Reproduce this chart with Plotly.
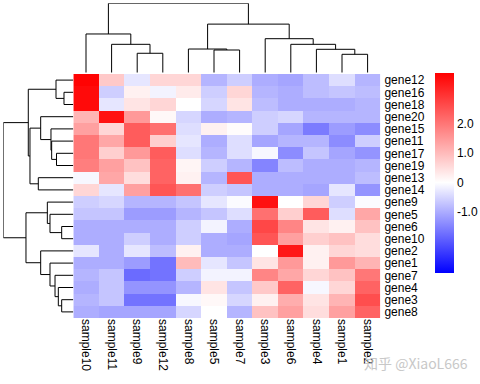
import plotly.graph_objects as go

samples = ["sample10", "sample11", "sample9", "sample12", "sample8", "sample5",
           "sample7", "sample3", "sample6", "sample4", "sample1", "sample2"]
genes = ["gene12", "gene16", "gene18", "gene20", "gene15", "gene11", "gene17",
         "gene19", "gene13", "gene14", "gene9", "gene5", "gene6", "gene10",
         "gene2", "gene1", "gene7", "gene4", "gene3", "gene8"]

values = [
    [3.7, 0.8, -0.3, 0.6, 0.6, -0.9, -0.6, -1.0, -1.1, -0.8, -0.4, -0.9],
    [3.6, -0.6, 0.2, -0.15, 0.3, -0.6, 0.6, -0.9, -1.0, -0.8, -0.7, -0.8],
    [3.6, -0.3, 0.4, 0.6, 0.0, -0.5, 0.4, -0.8, -1.0, -1.0, -1.0, -0.9],
    [1.1, 3.5, 1.5, 0.1, -0.5, -1.0, -0.9, -0.6, -0.5, -0.9, -0.9, -0.9],
    [1.4, 0.6, 2.4, 2.1, -0.4, 0.2, 0.05, -0.6, -1.1, -1.6, -1.2, -1.4],
    [2.0, 1.3, 2.4, 0.7, -0.3, -1.0, -0.4, -1.1, -0.9, -0.9, -1.4, -0.6],
    [2.0, 0.7, 1.5, 2.4, -0.4, -0.9, -0.4, -0.1, -1.4, -0.7, -1.1, -1.3],
    [1.9, 1.4, 0.9, 2.3, 0.15, -0.6, -0.9, -1.5, -0.8, -1.0, -1.0, -0.9],
    [-0.1, 1.3, 0.5, 2.3, 0.2, -0.9, 2.5, -1.0, -1.0, -1.0, -1.0, -0.8],
    [0.6, -0.3, 1.4, 2.5, 2.1, -0.6, -0.7, -1.0, -1.0, -1.1, -0.3, -1.3],
    [-0.6, -0.5, -0.9, -0.9, -0.7, -0.3, -0.05, 3.5, 0.0, 0.6, -0.6, -0.05],
    [-0.7, -0.7, -1.2, -1.2, -0.9, -0.7, -0.4, 2.1, 0.7, 2.4, -0.4, 1.3],
    [-1.0, -1.0, -1.0, -1.0, -0.6, -0.15, -1.0, 2.7, 1.8, 0.4, 0.2, 0.9],
    [-1.0, -1.0, -0.6, -1.0, -0.6, -1.0, -1.1, 2.5, 1.4, 0.7, 0.9, 0.5],
    [-0.3, -1.0, -0.3, -0.8, 0.2, -1.0, -1.0, 0.0, 3.4, 0.2, 0.6, 0.5],
    [-1.0, -1.0, -1.2, -1.7, 1.0, -0.3, -0.7, 0.4, 1.5, 0.2, 1.5, 1.1],
    [-0.9, -0.7, -1.8, -1.7, -0.6, -0.15, -0.15, 1.8, 1.3, 0.6, 0.9, 2.0],
    [-1.0, -0.7, -1.3, -1.3, -0.9, 0.4, -0.7, 0.8, 2.3, -0.1, 0.6, 2.3],
    [-0.9, -0.7, -1.7, -1.7, -0.1, 0.1, -0.5, 0.2, 1.2, 0.4, 1.1, 2.6],
    [-1.0, -1.1, -1.1, -1.1, -0.5, 0.0, -0.9, 0.9, 1.4, 0.5, 1.4, 2.3],
]

# dendrogram merges: (child a, child b, height); "cN"/"rN" refer to earlier merges
col_merges = [
    ("sample9", "sample12", 2.8),
    ("sample11", "c0", 4.09),
    ("sample10", "c1", 5.58),
    ("sample5", "sample7", 3.27),
    ("sample8", "c3", 3.41),
    ("sample1", "sample2", 2.65),
    ("sample4", "c5", 3.37),
    ("sample6", "c6", 4.09),
    ("sample3", "c7", 4.9),
    ("c4", "c8", 7.0),
    ("c2", "c9", 10.0),
]
row_merges = [
    ("gene16", "gene18", 1.33),
    ("gene12", "r0", 2.47),
    ("gene17", "gene19", 2.4),
    ("gene11", "r2", 3.09),
    ("gene15", "r3", 3.19),
    ("gene20", "r4", 4.66),
    ("gene13", "gene14", 5.0),
    ("r5", "r6", 6.19),
    ("r1", "r7", 6.43),
    ("gene6", "gene10", 1.66),
    ("gene5", "r9", 3.33),
    ("gene9", "r10", 3.71),
    ("gene3", "gene8", 1.66),
    ("gene4", "r12", 2.14),
    ("gene7", "r13", 2.61),
    ("gene1", "r14", 3.33),
    ("gene2", "r15", 4.66),
    ("r11", "r16", 6.76),
    ("r8", "r17", 10.0),
]

zmin, zmax = -3.1, 3.75
cb_ticks = [-1, 0, 1, 2]
cb_text = ["-1.0", "0", "1.0", "2.0"]


def dendro_paths(leaves, merges, prefix):
    pos = {name: (i, 0.0) for i, name in enumerate(leaves)}
    ps, hs = [], []
    for k, (a, b, h) in enumerate(merges):
        pa, ha = pos[a]
        pb, hb = pos[b]
        ps += [pa, pa, pb, pb, None]
        hs += [ha, h, h, hb, None]
        pos[prefix + str(k)] = ((pa + pb) / 2.0, h)
    return ps, hs


W, H = 480, 384
hx0, hx1 = 73.2, 380.4
hy0, hy1 = 74.0, 318.0

fig = go.Figure()
fig.add_trace(go.Heatmap(
    z=values, x=list(range(len(samples))), y=list(range(len(genes))),
    zmin=zmin, zmax=zmax,
    colorscale=[[0, "rgb(0,0,255)"], [(0 - zmin) / (zmax - zmin), "rgb(255,255,255)"],
                [1, "rgb(255,0,0)"]],
    colorbar=dict(x=434.5 / W, xanchor="left", y=1 - 173 / H, yanchor="middle",
                  thickness=19, thicknessmode="pixels", len=200, lenmode="pixels",
                  outlinewidth=0, ticks="", tickvals=cb_ticks, ticktext=cb_text,
                  tickfont=dict(family="Liberation Sans, Arial", size=12, color="#000"),
                  xpad=0, ypad=0),
    hoverinfo="skip",
))

cx, cy = dendro_paths(samples, col_merges, "c")
fig.add_trace(go.Scatter(x=cx, y=cy, mode="lines", line=dict(color="black", width=1),
                         xaxis="x2", yaxis="y2", hoverinfo="skip", showlegend=False))
rx, ry = dendro_paths(genes, row_merges, "r")
fig.add_trace(go.Scatter(x=ry, y=rx, mode="lines", line=dict(color="black", width=1),
                         xaxis="x3", yaxis="y3", hoverinfo="skip", showlegend=False))

font = dict(family="Liberation Sans, Arial", size=12, color="#000")
fig.update_layout(
    width=W, height=H, margin=dict(l=0, r=0, t=0, b=0, autoexpand=False),
    paper_bgcolor="white", plot_bgcolor="white", showlegend=False,
    xaxis=dict(domain=[hx0 / W, hx1 / W], range=[-0.5, len(samples) - 0.5],
               tickvals=list(range(len(samples))), ticktext=samples, tickangle=90,
               tickfont=font, showgrid=False, zeroline=False, showline=False, ticks="",
               automargin=False),
    yaxis=dict(domain=[1 - hy1 / H, 1 - hy0 / H], range=[len(genes) - 0.5, -0.5],
               tickvals=list(range(len(genes))), ticktext=genes, side="right",
               tickfont=font, showgrid=False, zeroline=False, showline=False, ticks="",
               ticklabelstandoff=3, automargin=False),
    xaxis2=dict(domain=[hx0 / W, hx1 / W], range=[-0.5, len(samples) - 0.5],
                visible=False, anchor="y2"),
    yaxis2=dict(domain=[1 - 72.7 / H, 1 - 3.3 / H], range=[0, 10], visible=False,
                anchor="x2"),
    xaxis3=dict(domain=[3.3 / W, 73.3 / W], range=[10, 0], visible=False, anchor="y3"),
    yaxis3=dict(domain=[1 - hy1 / H, 1 - hy0 / H], range=[len(genes) - 0.5, -0.5],
                visible=False, anchor="x3"),
    annotations=[dict(text="知乎 @XiaoL666", x=470 / W, y=1 - 363 / H, xref="paper",
                      yref="paper", xanchor="right", yanchor="middle", showarrow=False,
                      font=dict(family="Noto Sans CJK SC", size=14, color="#c8c8c8"))],
)

fig.write_html("out.html", config={"displayModeBar": False},
               post_script="document.body.style.margin='0px';")
